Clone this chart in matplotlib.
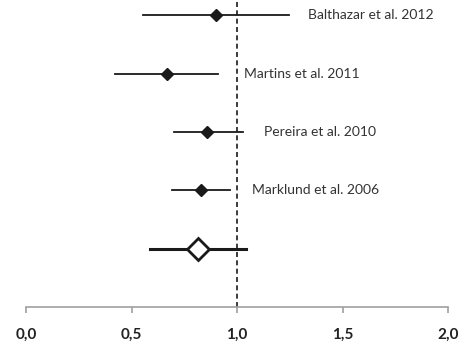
import numpy as np
import matplotlib.pyplot as plt

# odds ratios and 95% CI
estudios = ['Balthazar et al. 2012', 'Martins et al. 2011', 'Pereira et al. 2010', 'Marklund et al. 2006']
or_est = [0.90, 0.67, 0.86, 0.83]
ic_inf = [0.555, 0.42, 0.70, 0.69]
ic_sup = [1.245, 0.91, 1.03, 0.965]

or_global = 0.815
ic_global = (0.59, 1.045)

xticks = [0.0, 0.5, 1.0, 1.5, 2.0]

fig = plt.figure(figsize=(4.74, 3.57), dpi=100)
ax = fig.add_axes([26 / 474, 1 - 307 / 357, 422 / 474, 307 / 357])

# separacion de cada etiqueta respecto al extremo del IC (puntos)
sep = [14, 19, 15, 16]

filas = np.arange(len(estudios), 0, -1) + 0.0
for y, m, lo, hi, nombre, d in zip(filas, or_est, ic_inf, ic_sup, estudios, sep):
    ax.plot([lo, hi], [y, y], color='#1a1a1a', lw=1.3, zorder=2)
    ax.plot(m, y, marker='D', ms=6.5, color='#1a1a1a', zorder=3)
    ax.annotate(nombre, (hi, y), xytext=(d, 0), textcoords='offset points',
                va='center', ha='left', fontsize=10, color='#333333',
                family=['Lato', 'DejaVu Sans'])

# estimacion combinada
ax.plot(list(ic_global), [0.0, 0.0], color='#1a1a1a', lw=2.2, zorder=2)
ax.plot(or_global, 0.0, marker='D', ms=11, mfc='white', mec='#1a1a1a', mew=2, zorder=3)

ax.axvline(1.0, color='#1a1a1a', ls=(0, (3, 2)), lw=1.2, zorder=1)

ax.set_xlim(0, 2)
ax.set_ylim(-1.0, 4.26)
for s in ['left', 'top', 'right']:
    ax.spines[s].set_visible(False)
ax.spines['bottom'].set_color('#a0a0a0')
ax.spines['bottom'].set_linewidth(1.2)
ax.set_yticks([])
ax.set_xticks(xticks)
ax.set_xticklabels([f'{v:.1f}'.replace('.', ',') for v in xticks],
                   fontweight='bold', fontsize=11, color='#222222',
                   family=['Lato', 'DejaVu Sans'])
ax.tick_params(axis='x', direction='out', length=4, color='#a0a0a0', width=1.2, pad=11)

fig.savefig('out.png', dpi=100)
